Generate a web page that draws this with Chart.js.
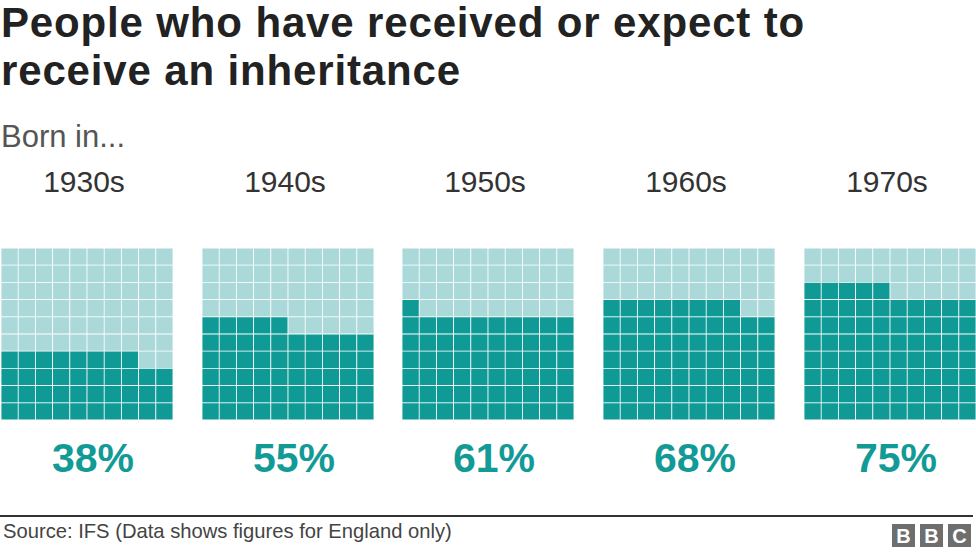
<!DOCTYPE html>
<html>
<head>
<meta charset="utf-8">
<script src="https://cdn.jsdelivr.net/npm/chart.js@4"></script>
<style>
  body { margin: 0; background: #fff; font-family: "Liberation Sans", Arial, sans-serif; }
  #page { position: relative; width: 976px; height: 552px; overflow: hidden; }
  h1 { position: absolute; left: 1px; top: -1px; margin: 0; font-size: 42px; line-height: 48px; letter-spacing: 0.85px; font-weight: bold; color: #222; white-space: nowrap; }
  #sub { position: absolute; left: 1px; top: 119px; font-size: 31px; color: #555; }
  .waffle { position: absolute; top: 248px; width: 172px; }
  .waffle .dec { position: absolute; top: -83px; left: -3px; width: 100%; text-align: center; font-size: 30px; color: #333; }
  .waffle .pct { position: absolute; top: 187px; left: 6px; width: 100%; text-align: center; font-size: 41px; font-weight: bold; color: #129a96; }
  #rule { position: absolute; left: 0; top: 515px; width: 973px; height: 2px; background: #333; }
  #source { position: absolute; left: 3px; top: 520px; font-size: 20.2px; color: #444; }
  #bbc { position: absolute; left: 892px; top: 524px; display: flex; gap: 5px; }
  #bbc span { width: 23px; height: 23px; background: #6e6e6e; color: #fff; font-weight: bold; font-size: 20px; line-height: 24px; text-align: center; }
</style>
</head>
<body>
<div id="page">
  <h1>People who have received or expect to<br>receive an inheritance</h1>
  <div id="sub">Born in...</div>
  <div id="grids"></div>
  <div id="rule"></div>
  <div id="source">Source: IFS (Data shows figures for England only)</div>
  <div id="bbc"><span>B</span><span>B</span><span>C</span></div>
</div>
<script>
// share of each birth cohort who have received or expect an inheritance (%)
const decades = ['1930s', '1940s', '1950s', '1960s', '1970s'];
const shares = [38, 55, 61, 68, 75];
const gridLefts = [1, 202, 402, 603, 804];

const darkTeal = '#109a96';
const lightTeal = '#abd9d9';

const cols = ['1', '2', '3', '4', '5', '6', '7', '8', '9', '10'];

function makeWaffle(idx) {
    const box = document.createElement('div');
    box.className = 'waffle';
    box.style.left = gridLefts[idx] + 'px';
    box.innerHTML = '<div class="dec">' + decades[idx] + '</div>' +
        '<canvas width="172" height="172"></canvas>' +
        '<div class="pct">' + shares[idx] + '%</div>';
    document.getElementById('grids').appendChild(box);

    // one stacked dataset per row, filled bottom-up, left to right
    const datasets = [];
    for (let row = 0; row < 10; row++) {
        datasets.push({
            data: cols.map(() => 1),
            backgroundColor: cols.map((c, col) => (row * 10 + col < shares[idx] ? darkTeal : lightTeal)),
            borderColor: '#fff',
            borderWidth: 0.75,
            borderSkipped: false,
            barPercentage: 1,
            categoryPercentage: 1
        });
    }

    new Chart(box.querySelector('canvas'), {
        type: 'bar',
        data: { labels: cols, datasets: datasets },
        options: {
            responsive: false,
            animation: false,
            layout: { padding: 0 },
            plugins: { legend: { display: false }, tooltip: { enabled: false } },
            scales: {
                x: { stacked: true, display: false },
                y: { stacked: true, display: false, min: 0, max: 10 }
            }
        }
    });
}

decades.forEach((d, i) => makeWaffle(i));
</script>
</body>
</html>
